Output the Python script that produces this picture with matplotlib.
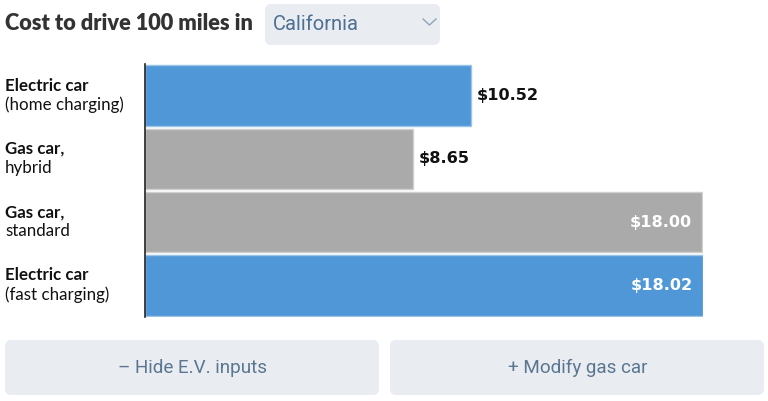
import matplotlib
matplotlib.use("Agg")
import matplotlib.pyplot as plt
from matplotlib.patches import FancyBboxPatch

categories_bold = ["Electric car", "Gas car,", "Gas car,", "Electric car"]
categories_sub = ["(home charging)", "hybrid", "standard", "(fast charging)"]
values = [10.52, 8.65, 18.00, 18.02]
colors = ["#4f97d6", "#aaaaaa", "#aaaaaa", "#4f97d6"]
edge_colors = ["#9cc4e8", "#cfcfcf", "#cfcfcf", "#9cc4e8"]
value_labels = ["$10.52", "$8.65", "$18.00", "$18.02"]
inside = [False, False, True, True]
title = "Cost to drive 100 miles in"
state = "California"
buttons = ["\u2013 Hide E.V. inputs", "+ Modify gas car"]

W, H = 768, 401
fig = plt.figure(figsize=(W / 100, H / 100), dpi=100)

# overlay in pixel coordinates
bg = fig.add_axes([0, 0, 1, 1], zorder=0)
bg.set_xlim(0, W)
bg.set_ylim(H, 0)
bg.axis("off")

bg.text(5, 24, title, fontsize=15.7, fontweight="heavy", family="Lato",
        color="#333333", va="center", ha="left")
bg.add_patch(FancyBboxPatch((265, 4), 175, 41, boxstyle="round,pad=0,rounding_size=6",
                            fc="#e9edf2", ec="none"))
bg.text(273, 24, state, fontsize=14.5, family="Roboto", color="#4d6f91",
        va="center", ha="left")
bg.plot([423, 429.5, 436], [19, 25, 19], color="#8fa3b8", lw=1.0)

btn_x = [5, 390]
for bx, label in zip(btn_x, buttons):
    bg.add_patch(FancyBboxPatch((bx, 340), 374, 55, boxstyle="round,pad=0,rounding_size=6",
                                fc="#e9edf2", ec="none"))
    bg.text(bx + 188, 368, label, fontsize=13.6, family="Roboto", color="#5b7690",
            va="center", ha="center")

# bar chart
left = 145 / W
right = 703 / W
top = 1 - 64 / H
bottom = 1 - 317 / H
ax = fig.add_axes([left, bottom, right - left, top - bottom], zorder=1)
ax.patch.set_alpha(0)
y = list(range(len(values)))
ax.barh(y, values, height=0.953, color=colors, edgecolor=edge_colors, linewidth=1.0)
ax.set_xlim(0, 18.02)
ax.set_ylim(len(values) - 0.5, -0.5)
for s in ["top", "right", "bottom"]:
    ax.spines[s].set_visible(False)
ax.spines["left"].set_color("#222222")
ax.spines["left"].set_linewidth(1.2)
ax.set_xticks([])
ax.set_yticks([])

for i, (v, lab, ins) in enumerate(zip(values, value_labels, inside)):
    if ins:
        ax.annotate(lab, (v, i), xytext=(-7.5, 0), textcoords="offset points",
                    ha="right", va="center", fontsize=11.6, fontweight="bold",
                    family="DejaVu Sans", color="white")
    else:
        ax.annotate(lab, (v, i), xytext=(4.5, 0), textcoords="offset points",
                    ha="left", va="center", fontsize=11.6, fontweight="bold",
                    family="DejaVu Sans", color="#111111")

for i, (b, s) in enumerate(zip(categories_bold, categories_sub)):
    ax.annotate(b, (0, i), xycoords=("axes fraction", "data"), xytext=(5, 10),
                textcoords=("figure pixels", "offset pixels"), ha="left", va="center",
                fontsize=12.2, fontweight="bold", family="Lato", color="#111111")
    ax.annotate(s, (0, i), xycoords=("axes fraction", "data"), xytext=(5, -9),
                textcoords=("figure pixels", "offset pixels"), ha="left", va="center",
                fontsize=12.2, family="Lato", color="#111111")

fig.savefig("out.png", dpi=100)
